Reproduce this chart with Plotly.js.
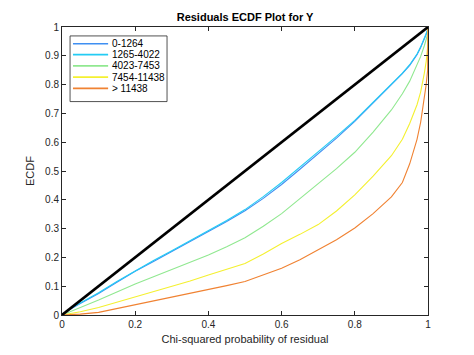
<!DOCTYPE html>
<html>
<head>
<meta charset="utf-8">
<script src="https://cdn.plot.ly/plotly-3.0.1.min.js"></script>
<style>html,body{margin:0;padding:0;background:#fff;}#chart{width:474px;height:355px;}</style>
</head>
<body>
<div id="chart"></div>
<script>
// ---- data ----
var seriesNames = ["0-1264", "1265-4022", "4023-7453", "7454-11438", "> 11438"];
var seriesColors = ["#3f8ff2", "#24ccf4", "#90e890", "#f4f030", "#f08232"];
var probX = [0, 0.02, 0.05, 0.1, 0.15, 0.2, 0.25, 0.3, 0.35, 0.4, 0.45, 0.5, 0.55, 0.6, 0.65, 0.7, 0.75, 0.8, 0.85, 0.9, 0.93, 0.95, 0.97, 0.98, 0.99, 0.995, 0.999, 1];
var ecdf0 = [0, 0.018, 0.04, 0.075, 0.114, 0.152, 0.186, 0.22, 0.255, 0.29, 0.325, 0.362, 0.405, 0.453, 0.506, 0.56, 0.614, 0.672, 0.735, 0.798, 0.838, 0.867, 0.904, 0.929, 0.957, 0.974, 0.99, 1];
var ecdf1 = [0, 0.02, 0.042, 0.077, 0.116, 0.154, 0.189, 0.223, 0.258, 0.292, 0.328, 0.366, 0.411, 0.46, 0.513, 0.567, 0.62, 0.676, 0.738, 0.8, 0.84, 0.869, 0.906, 0.931, 0.959, 0.976, 0.99, 1];
var ecdf2 = [0, 0.01, 0.025, 0.052, 0.08, 0.108, 0.133, 0.158, 0.183, 0.208, 0.237, 0.268, 0.308, 0.352, 0.404, 0.456, 0.508, 0.565, 0.635, 0.712, 0.768, 0.812, 0.866, 0.898, 0.935, 0.955, 0.975, 1];
var ecdf3 = [0, 0.004, 0.011, 0.026, 0.044, 0.063, 0.08, 0.098, 0.118, 0.139, 0.158, 0.179, 0.212, 0.248, 0.28, 0.314, 0.361, 0.417, 0.482, 0.553, 0.61, 0.665, 0.73, 0.775, 0.84, 0.88, 0.93, 1];
var ecdf4 = [0, 0.001, 0.003, 0.009, 0.022, 0.036, 0.05, 0.062, 0.075, 0.089, 0.102, 0.116, 0.138, 0.162, 0.192, 0.226, 0.261, 0.302, 0.352, 0.41, 0.46, 0.525, 0.61, 0.67, 0.75, 0.8, 0.85, 1];
var ecdfSeries = [ecdf0, ecdf1, ecdf2, ecdf3, ecdf4];
var refX = [0, 1];
var refY = [0, 1];
var xTicks = [0, 0.2, 0.4, 0.6, 0.8, 1];
var xTickText = ["0", "0.2", "0.4", "0.6", "0.8", "1"];
var yTicks = [0, 0.1, 0.2, 0.3, 0.4, 0.5, 0.6, 0.7, 0.8, 0.9, 1];
var yTickText = ["0", "0.1", "0.2", "0.3", "0.4", "0.5", "0.6", "0.7", "0.8", "0.9", "1"];

// ---- traces ----
var traces = [];
for (var i = 0; i < ecdfSeries.length; i++) {
  traces.push({
    x: probX, y: ecdfSeries[i], type: 'scatter', mode: 'lines',
    name: seriesNames[i], showlegend: false,
    line: {color: seriesColors[i], width: 1.1}
  });
}
traces.push({x: refX, y: refY, type: 'scatter', mode: 'lines', showlegend: false,
  line: {color: '#000000', width: 2.6}});

// ---- manual legend (compact like MATLAB) ----
var shapes = [{type: 'rect', xref: 'paper', yref: 'paper', x0: 0.022, x1: 0.287, y0: 0.741, y1: 0.969,
  line: {color: '#262626', width: 0.8}, fillcolor: '#ffffff', layer: 'above'}];
var annotations = [];
var entryY = [0.942, 0.904, 0.865, 0.826, 0.787];
for (var j = 0; j < seriesNames.length; j++) {
  shapes.push({type: 'line', xref: 'paper', yref: 'paper', x0: 0.030, x1: 0.126, y0: entryY[j], y1: entryY[j],
    line: {color: seriesColors[j], width: 1.6}, layer: 'above'});
  annotations.push({xref: 'paper', yref: 'paper', x: 0.131, y: entryY[j], xanchor: 'left', yanchor: 'middle',
    text: seriesNames[j], showarrow: false, font: {family: 'Liberation Sans, Arial, sans-serif', size: 10, color: '#000000'}});
}

var axisCommon = {
  showgrid: false, zeroline: false, showline: true, linecolor: '#262626', linewidth: 1,
  mirror: 'ticks', ticks: 'inside', ticklen: 4, tickwidth: 1, tickcolor: '#262626',
  tickfont: {family: 'Liberation Sans, Arial, sans-serif', size: 10, color: '#262626'}
};

var layout = {
  width: 474, height: 355,
  margin: {l: 62, r: 46, t: 27, b: 40, pad: 0},
  paper_bgcolor: '#ffffff', plot_bgcolor: '#ffffff',
  title: {text: '<b>Residuals ECDF Plot for Y</b>', x: 0.517, xanchor: 'center', y: 0.952, yanchor: 'middle',
    font: {family: 'Liberation Sans, Arial, sans-serif', size: 11, color: '#000000'}},
  xaxis: Object.assign({}, axisCommon, {range: [0, 1], tickvals: xTicks, ticktext: xTickText,
    title: {text: 'Chi-squared probability of residual', standoff: 6,
      font: {family: 'Liberation Sans, Arial, sans-serif', size: 11, color: '#262626'}}}),
  yaxis: Object.assign({}, axisCommon, {range: [0, 1], tickvals: yTicks, ticktext: yTickText,
    title: {text: 'ECDF', standoff: 8,
      font: {family: 'Liberation Sans, Arial, sans-serif', size: 11, color: '#262626'}}}),
  shapes: shapes,
  annotations: annotations,
  showlegend: false
};

Plotly.newPlot('chart', traces, layout, {displayModeBar: false, staticPlot: true});
</script>
</body>
</html>
